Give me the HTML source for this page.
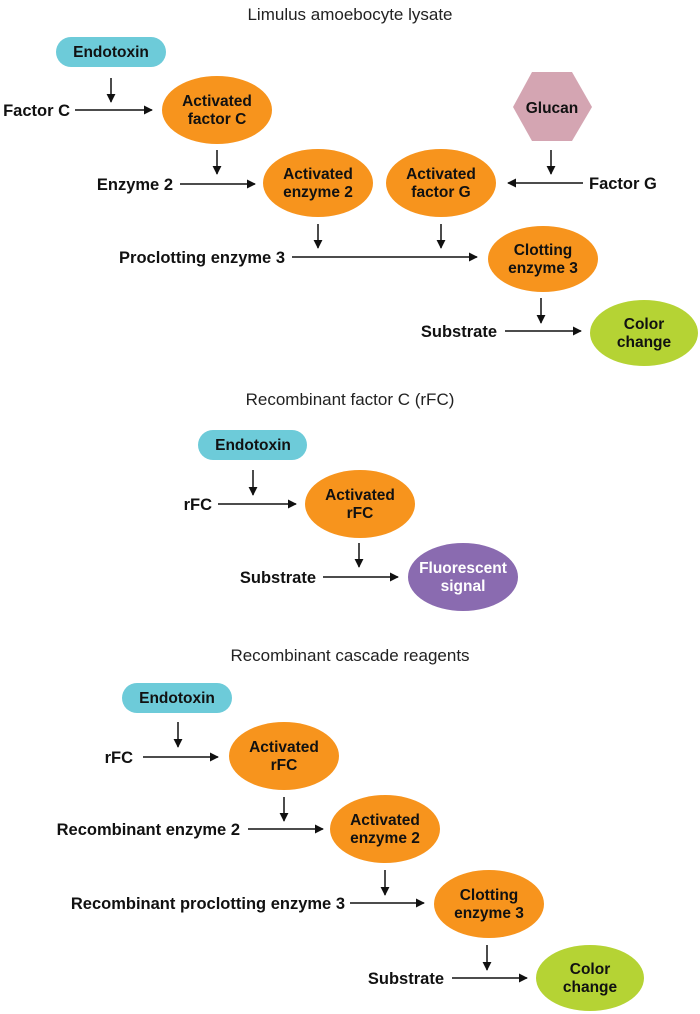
<!DOCTYPE html>
<html><head><meta charset="utf-8"><style>
html,body{margin:0;padding:0;background:#fff}
svg{display:block}
text{font-family:"Liberation Sans",sans-serif}
.t{font-size:17px;fill:#222;text-anchor:middle}
.l{font-size:16.5px;font-weight:bold;fill:#111}
.n{font-size:15.5px;font-weight:bold;fill:#111;text-anchor:middle}
.w{fill:#fff}
line{stroke:#111;stroke-width:1.5}
</style></head><body>
<svg width="700" height="1014" viewBox="0 0 700 1014" xmlns="http://www.w3.org/2000/svg">
<defs><marker id="a" viewBox="0 0 10 10" refX="9" refY="5" markerWidth="9" markerHeight="9" markerUnits="userSpaceOnUse" orient="auto"><path d="M0,0L10,5L0,10z" fill="#111"/></marker></defs>
<g marker-end="url(#a)">
<line x1="111" y1="78" x2="111" y2="102"/>
<line x1="75" y1="110" x2="152" y2="110"/>
<line x1="217" y1="150" x2="217" y2="174"/>
<line x1="180" y1="184" x2="255" y2="184"/>
<line x1="551" y1="150" x2="551" y2="174"/>
<line x1="583" y1="183" x2="508" y2="183"/>
<line x1="318" y1="224" x2="318" y2="248"/>
<line x1="441" y1="224" x2="441" y2="248"/>
<line x1="292" y1="257" x2="477" y2="257"/>
<line x1="541" y1="298" x2="541" y2="323"/>
<line x1="505" y1="331" x2="581" y2="331"/>
<line x1="253" y1="470" x2="253" y2="495"/>
<line x1="218" y1="504" x2="296" y2="504"/>
<line x1="359" y1="543" x2="359" y2="567"/>
<line x1="323" y1="577" x2="398" y2="577"/>
<line x1="178" y1="722" x2="178" y2="747"/>
<line x1="143" y1="757" x2="218" y2="757"/>
<line x1="284" y1="797" x2="284" y2="821"/>
<line x1="248" y1="829" x2="323" y2="829"/>
<line x1="385" y1="870" x2="385" y2="895"/>
<line x1="350" y1="903" x2="424" y2="903"/>
<line x1="487" y1="945" x2="487" y2="970"/>
<line x1="452" y1="978" x2="527" y2="978"/>
</g>

<text class="t" x="350" y="20">Limulus amoebocyte lysate</text>
<rect x="56" y="37" width="110" height="30" rx="15" fill="#6dcbd9"/>
<text class="n" x="111" y="57">Endotoxin</text>
<text class="l" x="70" y="116" text-anchor="end">Factor C</text>
<ellipse cx="217" cy="110" rx="55" ry="34" fill="#f7941d"/>
<text class="n" x="217" y="106">Activated</text><text class="n" x="217" y="124">factor C</text>
<text class="l" x="173" y="190" text-anchor="end">Enzyme 2</text>
<ellipse cx="318" cy="183" rx="55" ry="34" fill="#f7941d"/>
<text class="n" x="318" y="179">Activated</text><text class="n" x="318" y="197">enzyme 2</text>
<ellipse cx="441" cy="183" rx="55" ry="34" fill="#f7941d"/>
<text class="n" x="441" y="179">Activated</text><text class="n" x="441" y="197">factor G</text>
<polygon points="513,107 532,72 572,72 592,107 572,141 532,141" fill="#d4a5b2"/>
<text class="n" x="552" y="113">Glucan</text>
<text class="l" x="589" y="189">Factor G</text>
<text class="l" x="285" y="263" text-anchor="end">Proclotting enzyme 3</text>
<ellipse cx="543" cy="259" rx="55" ry="33" fill="#f7941d"/>
<text class="n" x="543" y="255">Clotting</text><text class="n" x="543" y="273">enzyme 3</text>
<text class="l" x="497" y="337" text-anchor="end">Substrate</text>
<ellipse cx="644" cy="333" rx="54" ry="33" fill="#b5d334"/>
<text class="n" x="644" y="329">Color</text><text class="n" x="644" y="347">change</text>

<text class="t" x="350" y="405">Recombinant factor C (rFC)</text>
<rect x="198" y="430" width="109" height="30" rx="15" fill="#6dcbd9"/>
<text class="n" x="253" y="450">Endotoxin</text>
<text class="l" x="212" y="510" text-anchor="end">rFC</text>
<ellipse cx="360" cy="504" rx="55" ry="34" fill="#f7941d"/>
<text class="n" x="360" y="500">Activated</text><text class="n" x="360" y="518">rFC</text>
<text class="l" x="316" y="583" text-anchor="end">Substrate</text>
<ellipse cx="463" cy="577" rx="55" ry="34" fill="#8a6bb0"/>
<text class="n w" x="463" y="573">Fluorescent</text><text class="n w" x="463" y="591">signal</text>

<text class="t" x="350" y="661">Recombinant cascade reagents</text>
<rect x="122" y="683" width="110" height="30" rx="15" fill="#6dcbd9"/>
<text class="n" x="177" y="703">Endotoxin</text>
<text class="l" x="133" y="763" text-anchor="end">rFC</text>
<ellipse cx="284" cy="756" rx="55" ry="34" fill="#f7941d"/>
<text class="n" x="284" y="752">Activated</text><text class="n" x="284" y="770">rFC</text>
<text class="l" x="240" y="835" text-anchor="end">Recombinant enzyme 2</text>
<ellipse cx="385" cy="829" rx="55" ry="34" fill="#f7941d"/>
<text class="n" x="385" y="825">Activated</text><text class="n" x="385" y="843">enzyme 2</text>
<text class="l" x="345" y="909" text-anchor="end">Recombinant proclotting enzyme 3</text>
<ellipse cx="489" cy="904" rx="55" ry="34" fill="#f7941d"/>
<text class="n" x="489" y="900">Clotting</text><text class="n" x="489" y="918">enzyme 3</text>
<text class="l" x="444" y="984" text-anchor="end">Substrate</text>
<ellipse cx="590" cy="978" rx="54" ry="33" fill="#b5d334"/>
<text class="n" x="590" y="974">Color</text><text class="n" x="590" y="992">change</text>
</svg>
</body></html>
